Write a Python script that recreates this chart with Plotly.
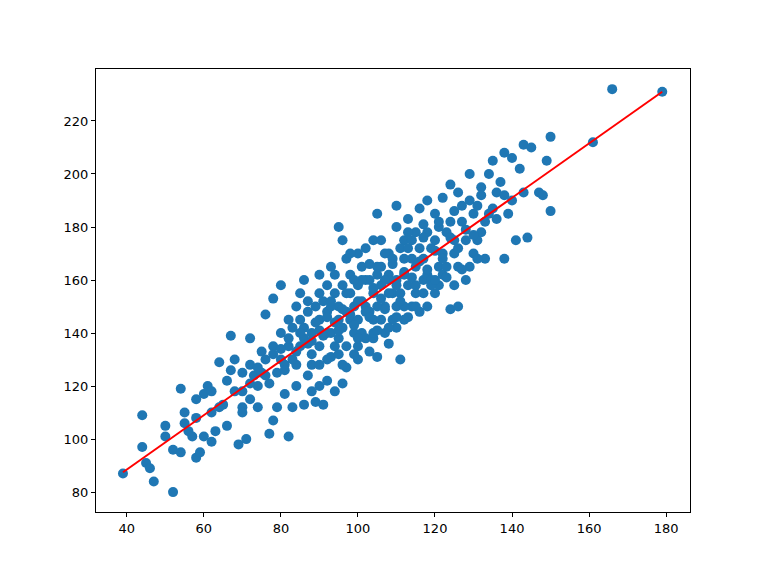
import plotly.graph_objects as go

# scatter points (x, y)
pts_x = [39, 44, 44, 45, 46, 47, 50, 50, 52, 52, 54, 54, 55, 55, 56, 57, 58, 58, 59, 60, 60, 61, 62, 62, 63, 64, 65, 66, 67, 67,
         68, 69, 70, 70, 71, 72, 72, 73, 74, 75, 76, 77, 77, 78, 78, 79, 80, 80, 81, 82, 82, 83, 84, 85, 86, 86, 87, 88, 89, 90,
         90, 91, 92, 93, 93, 94, 95, 95, 96, 96, 97, 97, 98, 99, 100, 100, 101, 102, 103, 104, 104, 105, 105, 106, 107, 108, 108, 109, 110, 110,
         111, 112, 112, 113, 113, 114, 115, 116, 116, 117, 118, 118, 119, 120, 120, 121, 122, 122, 123, 124, 124, 125, 126, 126, 127, 128, 129, 129, 130, 131,
         132, 132, 133, 134, 135, 135, 136, 137, 138, 138, 139, 140, 140, 141, 142, 143, 143, 144, 145, 147, 148, 149, 150, 150, 161, 166, 179,
         75, 76, 78, 79, 80, 81, 82, 83, 84, 85, 86, 87, 88, 88, 89, 90, 90, 91, 92, 92, 93, 94, 94, 95, 95, 96, 96, 97, 97, 98,
         98, 99, 99, 100, 100, 101, 101, 102, 102, 103, 103, 104, 104, 105, 105, 106, 106, 107, 107, 108, 108, 109, 109, 110, 110, 111, 111, 112, 112, 113,
         114, 114, 115, 115, 116, 117, 117, 118, 118, 119, 120, 121, 121, 122, 123, 124, 125, 126, 127, 128, 130, 131, 133, 85, 87, 90, 92, 94, 98, 102,
         106, 110, 84, 88, 92, 96, 100, 104, 108, 112, 66, 68, 70, 72, 74, 62, 64, 58,
         80, 82, 84, 86, 88, 90, 92, 94, 96, 98, 100, 102, 104, 106, 108, 110, 112, 114, 116, 118, 120, 122, 124, 126, 128, 130,
         81, 83, 85, 87, 89, 91, 93, 95, 97, 99, 101, 103, 105, 107, 109, 111, 113, 115, 117, 119, 121, 123, 125, 127, 129, 131,
         70, 72, 74, 76, 78, 134, 136, 138, 132, 90, 95, 100, 105, 110, 115, 120, 125, 93, 99, 103, 107, 113, 117]
pts_y = [87, 109, 97, 91, 89, 84, 105, 101, 96, 80, 119, 95, 110, 106, 103, 101, 108, 93, 95, 117, 101, 120, 99, 110, 103, 129, 113, 105, 139, 126,
         118, 98, 112, 110, 100, 138, 115, 124, 112, 133, 147, 102, 121, 153, 107, 112, 158, 130, 117, 101, 145, 112, 150, 135, 113, 160, 124, 132, 114, 162,
         120, 113, 140, 165, 131, 118, 180, 145, 175, 121, 168, 127, 155, 140, 170, 130, 152, 160, 133, 175, 145, 185, 131, 165, 150, 170, 136, 155, 180, 142,
         130, 175, 162, 183, 146, 168, 178, 148, 187, 160, 190, 150, 172, 185, 155, 165, 191, 162, 178, 196, 149, 170, 193, 150, 182, 160, 200, 165, 185, 175,
         195, 178, 168, 200, 205, 187, 193, 197, 168, 208, 185, 206, 190, 175, 202, 193, 211, 176, 210, 193, 192, 205, 214, 186, 212, 232, 231,
         125, 130, 135, 125, 140, 128, 135, 142, 128, 145, 138, 148, 140, 128, 150, 135, 145, 152, 130, 148, 140, 155, 135, 150, 138, 158, 142, 148, 135, 162,
         145, 150, 132, 158, 145, 165, 140, 150, 138, 160, 148, 155, 138, 165, 150, 145, 158, 170, 140, 155, 162, 145, 168, 160, 150, 172, 155, 145, 168, 158,
         175, 150, 165, 158, 172, 168, 155, 178, 162, 160, 175, 180, 158, 170, 165, 182, 175, 165, 188, 175, 170, 188, 182, 155, 152, 155, 158, 162, 170, 172,
         175, 188, 120, 118, 122, 128, 135, 140, 142, 150, 122, 130, 125, 128, 120, 118, 112, 115,
         134, 138, 133, 142, 137, 141, 146, 144, 149, 147, 152, 148, 157, 153, 160, 158, 163, 161, 167, 164, 171, 168, 176, 172, 179, 177,
         126, 130, 140, 136, 144, 139, 150, 141, 155, 143, 160, 146, 162, 149, 166, 152, 172, 155, 176, 158, 182, 161, 186, 164, 190, 168,
         118, 121, 127, 124, 132, 185, 183, 192, 192, 128, 132, 138, 141, 146, 150, 160, 158, 152, 160, 166, 160, 178, 181]

# fitted line endpoints
fit_x = [39, 179]
fit_y = [87.5, 231]

fig = go.Figure()
fig.add_trace(go.Scatter(x=pts_x, y=pts_y, mode='markers',
                         marker=dict(color='#1f77b4', size=10, line=dict(width=0))))
fig.add_trace(go.Scatter(x=fit_x, y=fit_y, mode='lines', line=dict(color='red', width=2)))

axis = dict(showline=True, linecolor='black', linewidth=1, mirror=True, ticks='outside',
            ticklen=4, tickcolor='black', showgrid=False, zeroline=False,
            tickfont=dict(size=13, color='black'))
fig.update_layout(
    width=768, height=576, showlegend=False,
    plot_bgcolor='white', paper_bgcolor='white',
    font=dict(family='DejaVu Sans'),
    margin=dict(l=88, r=86, t=61, b=72),
    xaxis=dict(range=[32, 186.2], tickvals=[40, 60, 80, 100, 120, 140, 160, 180], **axis),
    yaxis=dict(range=[72.5, 239.6], tickvals=[80, 100, 120, 140, 160, 180, 200, 220], **axis),
)
fig.write_html("out.html")
